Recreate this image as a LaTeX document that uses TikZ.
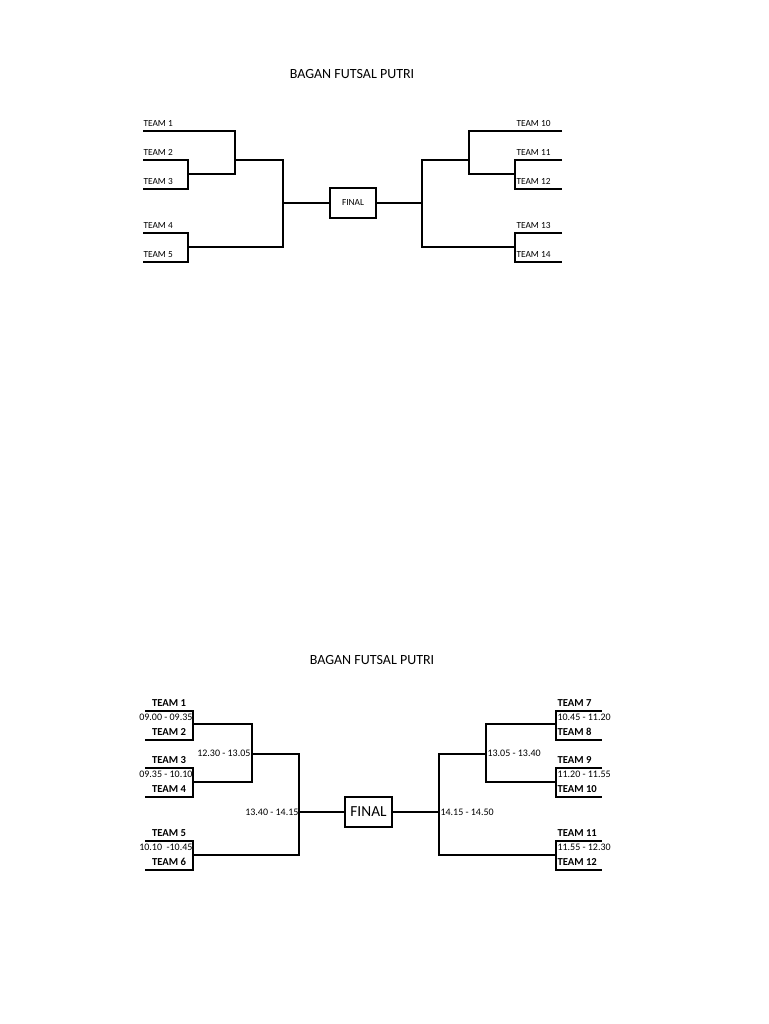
\documentclass[tikz,border=0pt]{standalone}
\usepackage{fontspec}
\setmainfont{Carlito}
\begin{document}
\begin{tikzpicture}[x=0.75pt,y=-0.75pt,line width=0.8pt,
  lbl/.style={font=\fontsize{7}{8}\selectfont,inner sep=0pt},
  blbl/.style={font=\fontsize{8}{9}\selectfont\bfseries,inner sep=0pt},
  tlbl/.style={font=\fontsize{7.5}{9}\selectfont,inner sep=0pt},
  box/.style={draw,line width=0.8pt,inner sep=0pt}]
\useasboundingbox (0,0) rectangle (768,1024);
% ---------- TOP ----------
\node[font=\fontsize{10.5}{12}\selectfont] (t1) at (352,74) {BAGAN FUTSAL PUTRI};
\node[box,minimum width=46*0.75pt,minimum height=30*0.75pt,font=\fontsize{7}{8}\selectfont] (f1) at (353,203) {FINAL};
% left
\foreach \n/\y in {1/131,2/160,3/189,4/233,5/262}{\node[lbl,anchor=base west] (lt\n) at (143,\y-5) {TEAM \n};}
\draw (143,131) -- (235,131) -- (235,174) -- (188,174);
\draw (143,160) -- (188,160) -- (188,189) -- (143,189);
\draw (143,233) -- (188,233) -- (188,262) -- (143,262);
\draw (188,247) -- (283,247) -- (283,160) -- (235,160);
\draw (283,203) -- (f1.west);
% right
\foreach \n/\y in {10/131,11/160,12/189,13/233,14/262}{\node[lbl,anchor=base west] (rt\n) at (516,\y-5) {TEAM \n};}
\draw (562,131) -- (469,131) -- (469,174) -- (515,174);
\draw (562,160) -- (515,160) -- (515,189) -- (562,189);
\draw (562,233) -- (515,233) -- (515,262) -- (562,262);
\draw (515,247) -- (422,247) -- (422,160) -- (469,160);
\draw (f1.east) -- (422,203);
% ---------- BOTTOM ----------
\node[font=\fontsize{10.5}{12}\selectfont] (t2) at (372,660) {BAGAN FUTSAL PUTRI};
\node[box,minimum width=47*0.75pt,minimum height=30*0.75pt,font=\fontsize{11.5}{13}\selectfont] (f2) at (368.5,812) {FINAL};
% left
\foreach \a/\b/\tm/\y in {1/2/09.00 - 09.35/711,3/4/09.35 - 10.10/768,5/6/10.10\ \ -10.45/841}{
  \node[blbl,anchor=base] (la\a) at (169,\y-5) {TEAM \a};
  \node[tlbl,anchor=east] (lm\a) at (193,\y+6) {\tm};
  \node[blbl,anchor=base] (lb\a) at (169,\y+24) {TEAM \b};
  \draw (145,\y) -- (193,\y) -- (193,\y+29) -- (145,\y+29);
}
\draw (193,724) -- (252,724) -- (252,782) -- (193,782);
\draw (193,855) -- (299,855) -- (299,754) -- (252,754);
\draw (299,812) -- (f2.west);
\node[tlbl,anchor=east] (ls1) at (251,753) {12.30 - 13.05};
\node[tlbl,anchor=east] (ls2) at (299,812) {13.40 - 14.15};
% right
\foreach \a/\b/\tm/\y in {7/8/10.45 - 11.20/711,9/10/11.20 - 11.55/768,11/12/11.55 - 12.30/841}{
  \node[blbl,anchor=base west] (ra\a) at (557,\y-5) {TEAM \a};
  \node[tlbl,anchor=west] (rm\a) at (557,\y+6) {\tm};
  \node[blbl,anchor=base west] (rb\a) at (557,\y+24) {TEAM \b};
  \draw (602,\y) -- (556,\y) -- (556,\y+29) -- (602,\y+29);
}
\draw (556,724) -- (486,724) -- (486,782) -- (556,782);
\draw (556,855) -- (439,855) -- (439,754) -- (486,754);
\draw (f2.east) -- (439,812);
\node[tlbl,anchor=west] (rs1) at (487,753) {13.05 - 13.40};
\node[tlbl,anchor=west] (rs2) at (440,812) {14.15 - 14.50};
\end{tikzpicture}
\end{document}
